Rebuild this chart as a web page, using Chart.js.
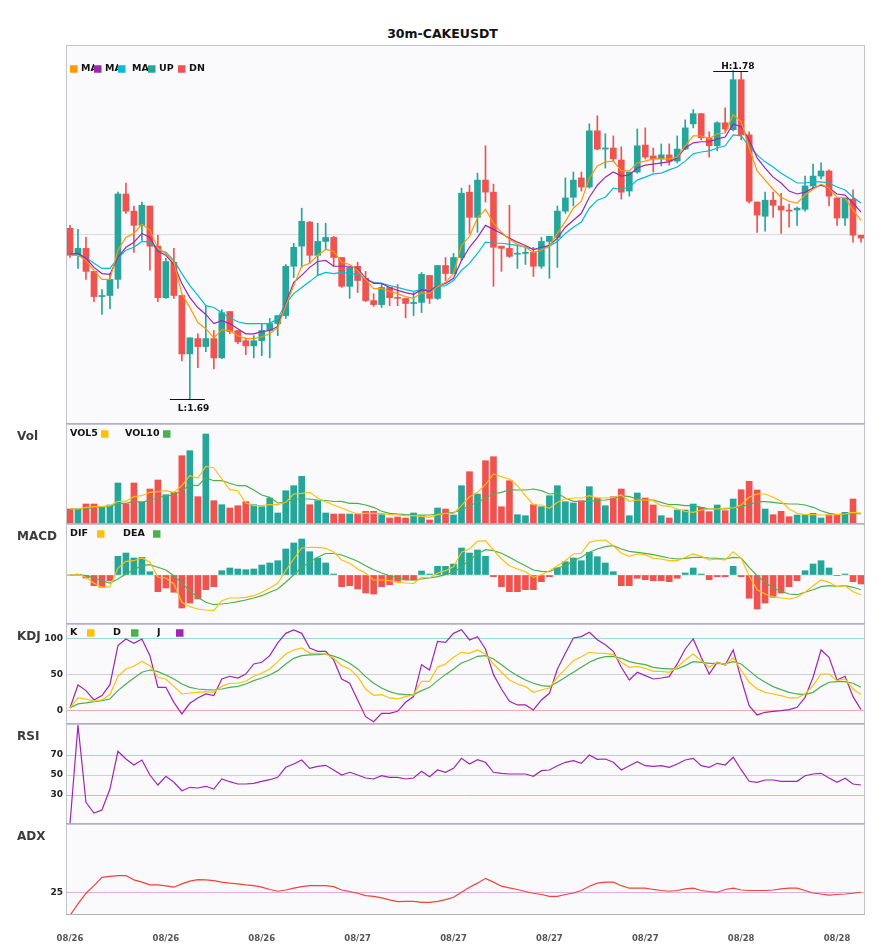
<!DOCTYPE html>
<html>
<head>
<meta charset="utf-8">
<script src="https://cdn.jsdelivr.net/npm/chart.js@4.4.1/dist/chart.umd.min.js"></script>
<style>
  body { margin: 0; background: #fff; }
  #wrap { position: relative; width: 885px; height: 950px; }
  #wrap canvas { position: absolute; left: 0; }
  #title { position: absolute; top: 26px; left: 0; width: 885px; text-align: center;
           font: bold 12.5px "DejaVu Sans", sans-serif; line-height: 16px; color: #111; }
</style>
</head>
<body>
<div id="wrap"><div id="title">30m-CAKEUSDT</div></div>
<script>
// ---- data (30m candles, 100 bars) ----
const tickLabels = ["08/26", "08/26", "08/26", "08/27", "08/27", "08/27", "08/27", "08/28", "08/28"];

const opens = [1.7368,1.7294,1.7313,1.7250,1.7181,1.7184,1.7228,1.7462,1.7415,1.7376,
  1.7429,1.7319,1.7178,1.7275,1.7184,1.7024,1.7066,1.7044,1.7066,1.7013,
  1.7140,1.7088,1.7060,1.7046,1.7060,1.7088,1.7107,1.7129,1.7264,1.7319,
  1.7385,1.7294,1.7332,1.7343,1.7288,1.7209,1.7264,1.7231,1.7170,1.7159,
  1.7206,1.7178,1.7176,1.7162,1.7165,1.7239,1.7176,1.7266,1.7244,1.7288,
  1.7467,1.7398,1.7500,1.7467,1.7319,1.7313,1.7297,1.7299,1.7302,1.7264,
  1.7332,1.7343,1.7415,1.7453,1.7506,1.7481,1.7635,1.7585,1.7588,1.7555,
  1.7470,1.7522,1.7596,1.7566,1.7558,1.7569,1.7552,1.7585,1.7654,1.7682,
  1.7616,1.7594,1.7657,1.7638,1.7775,1.7624,1.7440,1.7401,1.7445,1.7429,
  1.7418,1.7418,1.7420,1.7484,1.7511,1.7525,1.7451,1.7396,1.7448,1.7349];
const highs = [1.7376,1.7365,1.7343,1.7250,1.7200,1.7244,1.7467,1.7492,1.7429,1.7440,
  1.7429,1.7349,1.7286,1.7313,1.7184,1.7068,1.7079,1.7156,1.7088,1.7145,
  1.7140,1.7088,1.7068,1.7074,1.7107,1.7121,1.7129,1.7269,1.7327,1.7423,
  1.7387,1.7382,1.7382,1.7346,1.7288,1.7261,1.7275,1.7250,1.7189,1.7217,
  1.7206,1.7214,1.7176,1.7192,1.7247,1.7239,1.7266,1.7288,1.7299,1.7478,
  1.7486,1.7519,1.7594,1.7489,1.7319,1.7431,1.7319,1.7319,1.7316,1.7343,
  1.7346,1.7429,1.7506,1.7522,1.7522,1.7654,1.7676,1.7627,1.7621,1.7591,
  1.7522,1.7640,1.7643,1.7588,1.7599,1.7599,1.7621,1.7665,1.7693,1.7682,
  1.7632,1.7660,1.7698,1.7800,1.7795,1.7632,1.7440,1.7467,1.7467,1.7464,
  1.7434,1.7426,1.7511,1.7544,1.7547,1.7528,1.7451,1.7451,1.7473,1.7349];
const lows = [1.7288,1.7258,1.7228,1.7167,1.7132,1.7148,1.7203,1.7409,1.7302,1.7335,
  1.7253,1.7167,1.7176,1.7176,1.7005,1.6900,1.6986,1.7030,1.6983,1.7011,
  1.7079,1.7052,1.7022,1.7013,1.7019,1.7013,1.7074,1.7121,1.7233,1.7261,
  1.7272,1.7239,1.7310,1.7264,1.7206,1.7176,1.7192,1.7167,1.7154,1.7151,
  1.7156,1.7156,1.7123,1.7129,1.7137,1.7162,1.7173,1.7225,1.7244,1.7280,
  1.7354,1.7357,1.7440,1.7209,1.7250,1.7288,1.7258,1.7269,1.7236,1.7258,
  1.7231,1.7261,1.7409,1.7429,1.7470,1.7478,1.7583,1.7533,1.7550,1.7448,
  1.7456,1.7519,1.7558,1.7522,1.7539,1.7541,1.7547,1.7583,1.7643,1.7610,
  1.7563,1.7580,1.7632,1.7635,1.7610,1.7437,1.7357,1.7360,1.7398,1.7354,
  1.7371,1.7376,1.7415,1.7478,1.7503,1.7429,1.7376,1.7376,1.7330,1.7330];
const closes = [1.7294,1.7313,1.7250,1.7181,1.7184,1.7228,1.7462,1.7415,1.7376,1.7431,
  1.7319,1.7178,1.7277,1.7184,1.7024,1.7068,1.7044,1.7066,1.7013,1.7137,
  1.7085,1.7057,1.7046,1.7060,1.7088,1.7107,1.7129,1.7264,1.7316,1.7387,
  1.7294,1.7332,1.7343,1.7288,1.7209,1.7261,1.7225,1.7170,1.7159,1.7206,
  1.7178,1.7176,1.7162,1.7165,1.7242,1.7176,1.7266,1.7244,1.7288,1.7464,
  1.7398,1.7500,1.7467,1.7316,1.7313,1.7291,1.7299,1.7302,1.7264,1.7332,
  1.7346,1.7415,1.7451,1.7500,1.7481,1.7635,1.7585,1.7588,1.7558,1.7467,
  1.7522,1.7594,1.7563,1.7558,1.7569,1.7552,1.7585,1.7643,1.7682,1.7616,
  1.7594,1.7657,1.7640,1.7775,1.7624,1.7442,1.7404,1.7445,1.7431,1.7418,
  1.7415,1.7423,1.7484,1.7511,1.7525,1.7456,1.7396,1.7451,1.7349,1.7341];

const ma5 = [1.7294,1.7294,1.7280,1.7253,1.7228,1.7228,1.7308,1.7343,1.7354,1.7379,
  1.7363,1.7313,1.7299,1.7275,1.7189,1.7151,1.7110,1.7093,1.7068,1.7090,
  1.7088,1.7074,1.7066,1.7066,1.7071,1.7079,1.7096,1.7156,1.7211,1.7264,
  1.7272,1.7294,1.7310,1.7305,1.7275,1.7269,1.7253,1.7228,1.7203,1.7203,
  1.7195,1.7189,1.7181,1.7176,1.7192,1.7189,1.7209,1.7220,1.7244,1.7321,
  1.7346,1.7396,1.7420,1.7382,1.7357,1.7338,1.7324,1.7316,1.7302,1.7308,
  1.7319,1.7354,1.7387,1.7423,1.7442,1.7506,1.7539,1.7550,1.7552,1.7525,
  1.7525,1.7547,1.7552,1.7558,1.7558,1.7558,1.7563,1.7594,1.7621,1.7621,
  1.7613,1.7627,1.7629,1.7679,1.7660,1.7588,1.7525,1.7500,1.7475,1.7453,
  1.7442,1.7437,1.7459,1.7475,1.7489,1.7478,1.7453,1.7451,1.7418,1.7390];
const ma10 = [1.7297,1.7299,1.7286,1.7261,1.7244,1.7242,1.7288,1.7316,1.7330,1.7354,
  1.7343,1.7305,1.7294,1.7269,1.7217,1.7178,1.7151,1.7132,1.7107,1.7115,
  1.7107,1.7093,1.7079,1.7079,1.7085,1.7088,1.7099,1.7162,1.7220,1.7239,
  1.7261,1.7277,1.7280,1.7264,1.7264,1.7264,1.7258,1.7231,1.7217,1.7217,
  1.7206,1.7198,1.7192,1.7187,1.7200,1.7195,1.7211,1.7217,1.7231,1.7280,
  1.7316,1.7343,1.7376,1.7365,1.7354,1.7341,1.7330,1.7321,1.7310,1.7316,
  1.7321,1.7341,1.7371,1.7390,1.7409,1.7453,1.7486,1.7508,1.7522,1.7511,
  1.7514,1.7533,1.7541,1.7544,1.7547,1.7550,1.7561,1.7588,1.7602,1.7605,
  1.7605,1.7613,1.7618,1.7654,1.7646,1.7610,1.7561,1.7533,1.7508,1.7492,
  1.7470,1.7462,1.7467,1.7478,1.7486,1.7478,1.7462,1.7459,1.7437,1.7412];
const ma20 = [1.7297,1.7294,1.7288,1.7272,1.7258,1.7258,1.7286,1.7308,1.7316,1.7332,
  1.7330,1.7308,1.7302,1.7280,1.7244,1.7211,1.7184,1.7156,1.7151,1.7137,
  1.7123,1.7112,1.7107,1.7107,1.7107,1.7107,1.7121,1.7162,1.7189,1.7206,
  1.7222,1.7239,1.7247,1.7244,1.7247,1.7244,1.7242,1.7228,1.7220,1.7217,
  1.7211,1.7206,1.7200,1.7195,1.7200,1.7200,1.7209,1.7211,1.7225,1.7253,
  1.7272,1.7299,1.7330,1.7327,1.7327,1.7324,1.7321,1.7316,1.7310,1.7313,
  1.7319,1.7332,1.7354,1.7371,1.7385,1.7423,1.7445,1.7453,1.7478,1.7475,
  1.7481,1.7500,1.7508,1.7517,1.7519,1.7528,1.7536,1.7552,1.7572,1.7577,
  1.7580,1.7588,1.7594,1.7624,1.7621,1.7594,1.7569,1.7550,1.7536,1.7519,
  1.7506,1.7492,1.7492,1.7495,1.7495,1.7492,1.7481,1.7473,1.7453,1.7437];

// volume in thousands
const volK = [15,15,20,20,17.3,19,41,20,41,22.3,
  35,44,29.3,31.7,68.3,73.3,27.3,90,23.3,19.3,
  16,18.3,22.3,19.3,17.3,26,11,33.3,38.3,47.7,
  19.3,23.3,11,10,10,10,10,12.7,12.7,9.3,
  6,7,6,11,8.3,4,16,15,9,38.3,
  52.3,30,63.3,67.3,17.3,43.3,9.3,8.3,19.3,17.3,
  28.3,38.3,22.3,21,23.3,37.3,26,18.3,27.3,35,
  8.3,31,26,19,8.3,6,14,14,20,16.7,
  12.3,19,13.3,25,34.3,42.7,34,15,9.3,12.7,
  7.3,9,9.3,10.7,6,9,9,11.7,25,0.7];
const vol5 = [15,15,16.7,17.3,17.3,18.3,22.7,22.7,27.3,28.3,
  31.7,32.3,33.3,31.7,38.3,48.3,46,57.7,56,45,
  34.3,33.3,21,18.3,18.3,19.3,19.3,21.7,30,30.7,
  31.7,26,22,19,16,12.7,10,10.7,10.7,10.7,
  9.3,9,8.3,8.3,7.7,6.7,9.3,10.7,10.7,18.3,
  27.3,31.7,39.3,50,47.3,45,38.3,28.3,19,19,
  15.7,21.7,25,26,26,28.3,26,26,26.7,29,
  22.7,24,24,23.3,18.3,17.7,15,12.7,11.7,14,
  15,15,16,16,19,26.7,30,30,26.7,22.7,
  15,10.7,9.3,9.3,9,9,9.3,10,11.7,11];
const vol10 = [15,15,15.7,16.7,17.3,17.7,20.7,20.7,22.7,21.7,
  24,26,28.3,29,33.3,39,38.3,46,43.3,43.3,
  40.7,38.3,38.3,34,29,26.7,21,21.7,25,25,
  25,24,23.5,22.5,22.7,20.7,20.7,19,16.7,12.7,
  10.7,10,9.3,9,9,9,10,10.7,11.7,14,
  18.3,21.7,26,30,31.7,34.3,34,34,35,33.3,
  30,30.7,26,22.7,22.7,22.7,23.5,24,25,28.3,
  27.3,25,24,24,21.7,19.3,19.3,18.3,18.3,16.7,
  15,15,15,16,17.3,19.3,22.3,22.3,21.7,20.7,
  20,20,19,16.7,13.3,10.7,9.3,10,10.7,10];

// MACD values in units of 0.0001
const macdHist = [0,0.7,-3,-10.7,-12.3,-5.7,18.7,22,17,17.7,
  3.3,-16.7,-13,-17.3,-33,-28,-24,-14.7,-11.7,4.3,
  7,6,5.3,6,10,12,14.3,26,32,36,
  23.3,17,12,1,-11.7,-10.7,-14,-18,-19,-11.7,
  -9.7,-6.3,-5,-5,4,1,8.7,8.7,11,27,
  22,25,18.7,-1.7,-11.7,-16.7,-16.7,-14.7,-14.7,-6.7,
  -1.7,7,13.3,17,14.3,22.7,18.3,12,3.3,-10.7,
  -10.7,-3.3,-4.7,-5.7,-5.7,-6.7,-3.3,2,7,1,
  -4.7,-1.7,-1.7,8.7,-1.7,-23.3,-34,-28,-22.3,-18,
  -11.7,-5.7,4.3,11,14.3,7,-0.7,1,-6.7,-9];
const dif = [0,1,-2.3,-8.3,-12.3,-11.7,7,13.7,14.3,17,
  12.7,-2.3,-3,-9,-27.3,-31.7,-34,-35,-35.7,-25.7,
  -23,-23,-22.3,-20.7,-17.3,-13,-8.3,4.3,16,27,
  27.7,27.7,26.7,23,15,11.7,6,2,-5,-5,
  -5.7,-7.3,-8,-8.3,-2.3,-3,2,4.3,8.3,22.7,
  26,33.7,34.3,25,16,9.3,6,3.3,-2.3,0.3,
  4.3,9.3,14.3,21,21.7,32.7,34.5,35,29.3,21.7,
  18.7,21,20.3,16.7,16,14.3,14.3,17.7,21,18.7,
  15,16,15,23.3,16.7,-0.7,-14.7,-19,-21.7,-23,
  -24,-22.3,-17.3,-10.7,-5,-7.3,-11.7,-10.7,-16.7,-19.7];
const dea = [0,0.3,-0.7,-3,-5.7,-8,-4,1,5.3,9.3,
  10.3,7.7,5,-0.7,-8,-15.7,-22.3,-27.3,-29.7,-29,
  -28,-26.7,-25,-23,-20.7,-17.3,-14,-7.3,0.3,7.7,
  12.7,17.7,21.5,21.5,20,17,13.7,9.3,5.3,2,
  -0.7,-3,-4.7,-5,-4,-3,-1.7,0.3,2.7,8.3,
  15,21,25.3,24.3,21.7,17.7,13.3,9.3,5,3.7,
  3.3,7,9.3,14.3,17.7,22.7,26,28.3,29.3,26,
  23.7,22.7,21.7,20.3,18.7,17,16,16.7,17.7,17.7,
  17,16.7,16,17.7,17,7.7,-0.7,-7.3,-13,-16.3,
  -19,-19.7,-17.3,-14.7,-11.7,-10.7,-11.3,-10.7,-12.3,-14.7];

const kLine = [3.3,17.3,15.9,12.6,14.5,22,47.7,58,61.7,68.7,
  62.6,46.3,43.9,33.2,22.9,24.3,25.2,26.2,25.2,33.6,
  37.9,37.9,40.7,47.7,52.3,58,68.2,79,84.6,87.4,
  79.9,79.9,79,73,62.6,58,47.2,29.9,21,22,
  17.3,15.9,19.2,22,40.7,40.7,60.3,65,74.3,81.3,
  79.9,84.6,79,65,53.3,42.5,36.9,33.2,25.2,28.5,
  31.3,46.3,58,69.6,75.2,81.3,80,79.9,78,67.3,
  60.3,61.7,58.9,54.7,54.7,53.3,60.3,70.6,79,69.6,
  60.3,67.3,64,73.4,56.5,39.3,29.9,25.2,22.9,20.6,
  17.3,17.3,22.9,34.6,50.9,50.9,41.6,43.9,29.9,22];
const dLine = [3.3,8.9,10.3,12.1,13.6,15.9,27.6,36.9,45.3,53.3,
  56.5,54.2,49.5,43.9,36.9,32.2,29.9,29,28.5,29.9,
  32.2,33.6,36.9,41.6,45.3,49.5,55.6,65,72.9,76.6,
  77.6,78,79,76,72,65.9,58,47.2,37.9,31.3,
  26.2,22.9,22,22,27.6,32.2,41.6,50,58,66.4,
  70.6,75.7,76.6,72,64,55.6,48.6,42.5,37.9,34.6,
  33.6,39.3,46.3,53.3,60.3,67.3,72.5,75.2,75.7,72.9,
  68.2,65.9,64,60.3,58.9,58,58,62.6,68.2,67.3,
  65.9,65.9,65,68.2,65,55.6,46.3,39.3,33.2,29,
  25.2,22.9,22,25.2,33.2,39.3,40.2,40.2,37.9,32.2];
const jLine = [3.3,35.5,27.6,14.5,20.6,36,90.7,100,93.9,100,
  76.6,32.2,32.2,11.2,-5.1,9.8,17.3,22.9,20.6,43.9,
  47.7,45.3,50.9,65,67.3,76.6,94.4,107.9,112.6,107.9,
  87.4,82.7,82.7,70.6,43.9,37.9,14.5,-8.9,-16,-4.2,
  -4.2,-1.4,11.2,19.2,64,56.5,96.7,95.3,107.9,113.1,
  98.6,103.3,86,50,29.9,12.6,7.5,7.5,0.5,14.5,
  23.8,57.9,79.9,101.4,103.3,109.3,99,92,82.7,60.3,
  42.5,53.3,48.6,43.9,45.3,47.2,65,86,100,74.3,
  50.9,67.3,63.6,84.6,43.9,6.5,-6.5,-2.8,-1.4,-0.5,
  0.9,4.2,18.2,46.3,84.6,74.3,42.5,47.7,19.2,0.9];

const rsi = [1,100,22.7,12,15,36,73.7,66,60,65,
  50,40,48.7,42.7,34.3,37.7,37,38.7,36,46,
  43.3,41,41,41.7,43.7,45.3,47.7,57.7,61,65,
  56.7,58.7,59.7,55,50,52.7,50,47,46,49.3,
  47.7,47.7,46,47,53.7,48.3,55,52.7,56.7,66.7,
  61,65.3,62.7,52.7,51.7,51,51,51,48.7,54.3,
  55,59.3,62.7,64.3,61.7,70,65.7,66,62.7,55,
  59.3,63.3,59.3,58.7,59.3,57.7,61,65,66.7,59.3,
  57.7,61.7,60,67.7,55.3,43.7,42.7,45,45,43.7,
  43.7,43.7,49.3,51,51.7,47,42.7,46.7,41,40];

const adx = [15.8,20.4,24.6,27.6,30.9,31.3,31.6,31.6,29.9,29,
  27.9,27.9,27.5,27,28.3,29.4,30,29.9,29.6,29,
  28.6,28.3,27.9,27.6,27,26.1,25.4,25.9,26.6,27.2,
  27.6,27.6,27.6,27.2,25.9,25.3,24.6,23.7,23.4,22.8,
  22,21.3,21.4,21.4,21,21,21.4,22.1,23,25,
  27,28.6,30.5,29,27.4,26.7,26.1,25.3,24.6,24.1,
  23.4,23.4,24.1,24.7,25.7,27.4,28.6,29,29,27.6,
  26.6,26.6,26.6,26.1,25.7,25.4,25.7,26.3,26.6,25.7,
  25.3,25,26.1,26.6,25.9,25.7,25.7,25.7,25.9,26.3,
  26.6,26.6,25.7,24.7,24.3,23.9,24.1,24.3,24.6,25];

// x categories: one per 30m bar
const times = [];
const t0 = new Date(2023, 7, 26, 9, 0);
for (let i = 0; i < opens.length; i++) {
  const d = new Date(t0.getTime() + i * 30 * 60000);
  times.push(String(d.getMonth() + 1).padStart(2, "0") + "/" + String(d.getDate()).padStart(2, "0") +
    " " + String(d.getHours()).padStart(2, "0") + ":" + String(d.getMinutes()).padStart(2, "0"));
}

const UP = "#26a69a", DN = "#ef5350";
const candleColor = (c) => (closes[c.dataIndex] >= opens[c.dataIndex] ? UP : DN);
const signColor = (c) => (macdHist[c.dataIndex] >= 0 ? UP : DN);

Chart.defaults.font.family = '"DejaVu Sans", sans-serif';
Chart.defaults.animation = false;

// background, frame, panel name and small legend for every panel
function makeDeco(cfg) {
  return {
    id: "deco",
    beforeDraw(chart) {
      const { ctx, chartArea: a } = chart;
      ctx.save();
      ctx.fillStyle = "#fafafc";
      ctx.fillRect(a.left, a.top, a.right - a.left, a.bottom - a.top);
      ctx.restore();
    },
    afterDraw(chart) {
      const { ctx, chartArea: a } = chart;
      ctx.save();
      ctx.lineWidth = 1;
      ctx.strokeStyle = "#c4c4cc";
      ctx.strokeRect(a.left + 0.5, a.top + 0.5, a.right - a.left - 1, a.bottom - a.top - 1);
      ctx.strokeStyle = "#b0b0b8";
      ctx.beginPath();
      ctx.moveTo(a.left, a.bottom - 0.5); ctx.lineTo(a.right, a.bottom - 0.5);
      ctx.stroke();
      if (cfg.name) {
        ctx.font = 'bold 12px "DejaVu Sans"';
        ctx.fillStyle = "#3c3c3c";
        ctx.textBaseline = "alphabetic";
        ctx.fillText(cfg.name, 17, 15.5);
      }
      ctx.font = 'bold 9.5px "DejaVu Sans"';
      ctx.textBaseline = "middle";
      (cfg.texts || []).forEach((t) => {
        // each legend text is cut off where the next legend box begins
        ctx.save();
        ctx.beginPath();
        ctx.rect(t[1], cfg.legendY - 8, t[2] - t[1], 16);
        ctx.clip();
        ctx.fillStyle = "#111";
        ctx.fillText(t[0], t[1], cfg.legendY);
        ctx.restore();
      });
      (cfg.boxes || []).forEach((b) => {
        ctx.fillStyle = b[0];
        ctx.fillRect(b[1], cfg.legendY - 3.75, 7.5, 7.5);
      });
      ctx.restore();
    }
  };
}

// H / L markers on the price panel
const hlMarks = {
  id: "hlMarks",
  afterDatasetsDraw(chart) {
    const { ctx, scales: { x, y } } = chart;
    const hi = Math.max(...highs), lo = Math.min(...lows);
    const hx = x.getPixelForValue(highs.indexOf(hi)), hy = Math.round(y.getPixelForValue(hi)) + 0.5;
    const lx = x.getPixelForValue(lows.indexOf(lo)), ly = Math.round(y.getPixelForValue(lo)) + 0.5;
    ctx.save();
    ctx.strokeStyle = "#111";
    ctx.lineWidth = 1;
    ctx.beginPath();
    ctx.moveTo(hx - 20, hy); ctx.lineTo(hx + 15, hy);
    ctx.moveTo(lx - 20, ly); ctx.lineTo(lx + 15, ly);
    ctx.stroke();
    ctx.font = 'bold 9px "DejaVu Sans"';
    ctx.fillStyle = "#111";
    ctx.fillText("H:" + hi.toFixed(2), hx - 12, hy - 3);
    ctx.fillText("L:" + lo.toFixed(2), lx - 12, ly + 11.5);
    ctx.restore();
  }
};

function line(data, color, order) {
  return { type: "line", data, borderColor: color, borderWidth: 1.2, pointRadius: 0,
           tension: 0, order: order === undefined ? 0 : order };
}

function panel(top, height, datasets, y, deco, extraPlugins, showX) {
  const cv = document.createElement("canvas");
  cv.width = 885; cv.height = height;
  cv.style.top = top + "px";
  cv.style.width = "885px"; cv.style.height = height + "px";
  document.getElementById("wrap").appendChild(cv);
  const ticks = y.ticks;
  return new Chart(cv, {
    type: "bar",
    data: { labels: times, datasets },
    options: {
      responsive: false,
      layout: { autoPadding: false, padding: { left: 6, right: 20, top: 0, bottom: showX ? 7 : 0 } },
      plugins: { legend: { display: false }, tooltip: { enabled: false } },
      scales: {
        x: {
          type: "category", offset: true, display: !!showX,
          grid: { display: false }, border: { display: false },
          afterBuildTicks: (s) => { s.ticks = s.ticks.filter((t, i) => i % 12 === 0); },
          afterFit: (s) => { s.height = showX ? 28 : 0; s.paddingLeft = 0; s.paddingRight = 0; },
          ticks: { autoSkip: false, maxRotation: 0, padding: 11, color: "#555",
                   font: { size: 8.5, weight: "bold" },
                   callback: (v) => tickLabels[v / 12] }
        },
        y: {
          position: "left", min: y.min, max: y.max,
          afterFit: (s) => { s.width = 60; s.paddingTop = 0; s.paddingBottom = 0; },
          afterBuildTicks: (s) => { s.ticks = ticks.map((v) => ({ value: v })); },
          ticks: { display: !!y.labels, color: "#222", padding: 3,
                   font: { size: 9, weight: "bold" } },
          grid: { drawTicks: false, lineWidth: 1,
                  color: (c) => (y.gridColors[ticks.indexOf(c.tick.value)] || "rgba(0,0,0,0)") },
          border: { display: false }
        }
      }
    },
    plugins: [makeDeco(deco)].concat(extraPlugins || [])
  });
}

// price panel
panel(45, 379, [
  line(ma5, "#ff9800"),
  line(ma10, "#9c27b0"),
  line(ma20, "#00bcd4"),
  { type: "bar", data: opens.map((o, i) => [o, closes[i]]), backgroundColor: candleColor,
    barThickness: 6, minBarLength: 1, grouped: false, order: 1 },
  { type: "bar", data: lows.map((l, i) => [l, highs[i]]), backgroundColor: candleColor,
    barThickness: 1, grouped: false, order: 2 }
], { min: 1.6832, max: 1.787, ticks: [1.735], gridColors: ["#dcdce0"] },
{ legendY: 24,
  texts: [["MA5", 81, 94], ["MA10", 105, 118], ["MA20", 132, 148], ["UP", 159, 178], ["DN", 189, 230]],
  boxes: [["#ff9800", 70], ["#9c27b0", 94], ["#00bcd4", 118], [UP, 148], [DN, 178]] },
[hlMarks]);

// volume
panel(424, 100, [
  line(vol5, "#ffc107"),
  line(vol10, "#4caf50"),
  { type: "bar", data: volK, backgroundColor: candleColor, barThickness: 6, grouped: false, order: 1 }
], { min: 0, max: 100, ticks: [0], gridColors: [] },
{ name: "Vol", legendY: 10,
  texts: [["VOL5", 70, 101], ["VOL10", 125, 163]], boxes: [["#ffc107", 101], ["#4caf50", 163]] });

// MACD
panel(524, 100, [
  line(dif, "#ffc107"),
  line(dea, "#4caf50"),
  { type: "bar", data: macdHist, backgroundColor: signColor, barThickness: 6, grouped: false, order: 1 }
], { min: -49, max: 51, ticks: [0], gridColors: ["#e4e4e8"] },
{ name: "MACD", legendY: 10,
  texts: [["DIF", 70, 97], ["DEA", 123, 153]], boxes: [["#ffc107", 97], ["#4caf50", 153]] });

// KDJ
panel(624, 100, [
  line(kLine, "#ffc107"),
  line(dLine, "#4caf50"),
  line(jLine, "#9c27b0")
], { min: -19.2, max: 121, ticks: [0, 50, 100], labels: true,
     gridColors: ["#f6aaaa", "#cfcfd3", "#9fd6cf"] },
{ name: "KDJ", legendY: 9,
  texts: [["K", 70, 87], ["D", 113, 131], ["J", 157, 176]],
  boxes: [["#ffc107", 87], ["#4caf50", 131], ["#9c27b0", 176]] });

// RSI
panel(724, 100, [
  line(rsi, "#9c27b0")
], { min: 1, max: 101, ticks: [30, 50, 70], labels: true,
     gridColors: ["#f6aaaa", "#cfcfd3", "#9fd6cf"] },
{ name: "RSI", legendY: 9 });

// ADX
panel(824, 126, [
  line(adx, "#f44336")
], { min: 16, max: 52, ticks: [25], labels: true, gridColors: ["#dcb0e2"] },
{ name: "ADX", legendY: 9 }, [], true);
</script>
</body>
</html>
